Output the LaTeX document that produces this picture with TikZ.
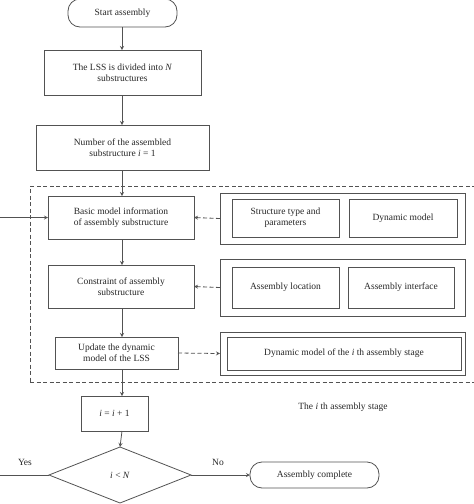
\documentclass[tikz,border=0pt]{standalone}
\usepackage{fontspec}
\setmainfont{Liberation Serif}
\usetikzlibrary{shapes.geometric}
\def\flowlinewidth{0.8pt}
\def\flowdrawcolor{black!68}
\def\flowtextcolor{black!85}
\def\cornerradius{12pt}
\def\innersep{2pt}
\tikzset{
	% texts
	textlabel/.style={
		font=\fontsize{9.5pt}{11pt}\selectfont,
		text=\flowtextcolor,
		align=center,
	},
	% process steps
	process/.style={
		shape=rectangle,
		draw=\flowdrawcolor,
		line width=\flowlinewidth,
		textlabel,
		inner sep=\innersep,
		outer sep=0pt,
	},
	% start and end
	terminal/.style={
		process,
		rounded corners=\cornerradius,
	},
	% check of the counter
	decision/.style={
		process,
		shape=diamond,
		inner sep=0pt,
	},
	% frames round the inputs
	group/.style={
		process,
		inner sep=0pt,
	},
	% frame of one stage
	stageframe/.style={
		draw=\flowdrawcolor,
		line width=\flowlinewidth,
		dash pattern=on 4pt off 2.5pt,
		inner sep=0pt,
	},
	% connections
	connection/.style={
		draw=\flowdrawcolor,
		line width=\flowlinewidth,
		-stealth,
	},
	inputconnection/.style={
		connection,
		dash pattern=on 4pt off 2.5pt,
	}
}
\begin{document}
\begin{tikzpicture}[x=1pt, y=-1pt]
		\useasboundingbox (0,0) rectangle (474,504);
		\coordinate (spine) at (122,0);
		
		% Stage frame
		\node[
			stageframe,
			minimum width=460pt,
			minimum height=195.5pt,
		] (stage_frame) at (260,284.25) {};
		\node[
			textlabel,
		] (stage_label) at (343,407) {The \textit{i} th assembly stage};
		
		% Main column
		\node[
			terminal,
			minimum width=109pt,
			minimum height=28pt,
		] (start_assembly) at (122.5,13) {Start assembly};
		%
		\node[
			process,
			minimum width=157pt,
			minimum height=45pt,
		] (lss_divided) at (122.5,72.5) {The LSS is divided into \textit{N}\\substructures};
		%
		\node[
			process,
			minimum width=173pt,
			minimum height=45pt,
		] (number_assembled) at (122.5,147.5) {Number of the assembled\\substructure \textit{i} = 1};
		%
		\node[
			process,
			minimum width=146pt,
			minimum height=43pt,
		] (basic_model) at (121,217.5) {Basic model information\\of assembly substructure};
		%
		\node[
			process,
			minimum width=146pt,
			minimum height=43pt,
		] (constraint) at (121,286.5) {Constraint of assembly\\substructure};
		%
		\node[
			process,
			minimum width=123pt,
			minimum height=32pt,
		] (update_model) at (116.5,353) {Update the dynamic\\model of the LSS};
		%
		\node[
			process,
			minimum width=67pt,
			minimum height=35pt,
		] (next_sub) at (114.5,413.5) {\textit{i} = \textit{i} + 1};
		%
		\node[
			decision,
			minimum width=142pt,
			minimum height=56pt,
		] (check_sub) at (120,475) {\textit{i} < \textit{N}};
		%
		\node[
			terminal,
			minimum width=129pt,
			minimum height=26pt,
		] (assembly_complete) at (314.5,475) {Assembly complete};
		
		% Inputs and outputs of the stage
		\node[
			group,
			minimum width=245pt,
			minimum height=51pt,
		] (model_group) at (342.5,218.5) {};
		\node[
			process,
			minimum width=107pt,
			minimum height=38pt,
		] (structure_type) at (285.5,218) {Structure type and\\parameters};
		\node[
			process,
			minimum width=108pt,
			minimum height=38pt,
		] (dynamic_model) at (403,218) {Dynamic model};
		%
		\node[
			group,
			minimum width=245pt,
			minimum height=57pt,
		] (constraint_group) at (342.5,287.5) {};
		\node[
			process,
			minimum width=107pt,
			minimum height=41pt,
		] (assembly_location) at (285.5,287.5) {Assembly location};
		\node[
			process,
			minimum width=106pt,
			minimum height=41pt,
		] (assembly_interface) at (401,287.5) {Assembly interface};
		%
		\node[
			group,
			minimum width=245pt,
			minimum height=43pt,
		] (stage_group) at (342.5,353.5) {};
		\node[
			process,
			minimum width=234pt,
			minimum height=33pt,
		] (stage_model) at (344,353.5) {Dynamic model of the \textit{i} th assembly stage};
		
		% Connections
		%% down the main column
		\draw [connection] (start_assembly.south -| spine) -- (lss_divided.north -| spine);
		\draw [connection] (lss_divided.south -| spine) -- (number_assembled.north -| spine);
		\draw [connection] (number_assembled.south -| spine) -- (basic_model.north -| spine);
		\draw [connection] (basic_model.south -| spine) -- (constraint.north -| spine);
		\draw [connection] (constraint.south -| spine) -- (update_model.north -| spine);
		\draw [connection] (update_model.south -| spine) -- (next_sub.north -| spine);
		\draw [connection] (next_sub.south -| spine) -- (check_sub.north);
		%% inputs -> stage
		\draw [inputconnection] (model_group.west) -- (basic_model.east);
		\draw [inputconnection] (constraint_group.west) -- (constraint.east);
		%% stage -> output
		\draw [inputconnection] (update_model.east) -- (stage_group.west);
		%% decision
		\draw [connection] (check_sub.east) -- (assembly_complete.west);
		\draw [connection] (check_sub.west) -- ++(-60,0) |- (basic_model.west);
		
		% Labels
		\node [textlabel] (yes_label) at (25,462) {Yes};
		\node [textlabel] (no_label) at (218,462) {No};
	\end{tikzpicture}
\end{document}
